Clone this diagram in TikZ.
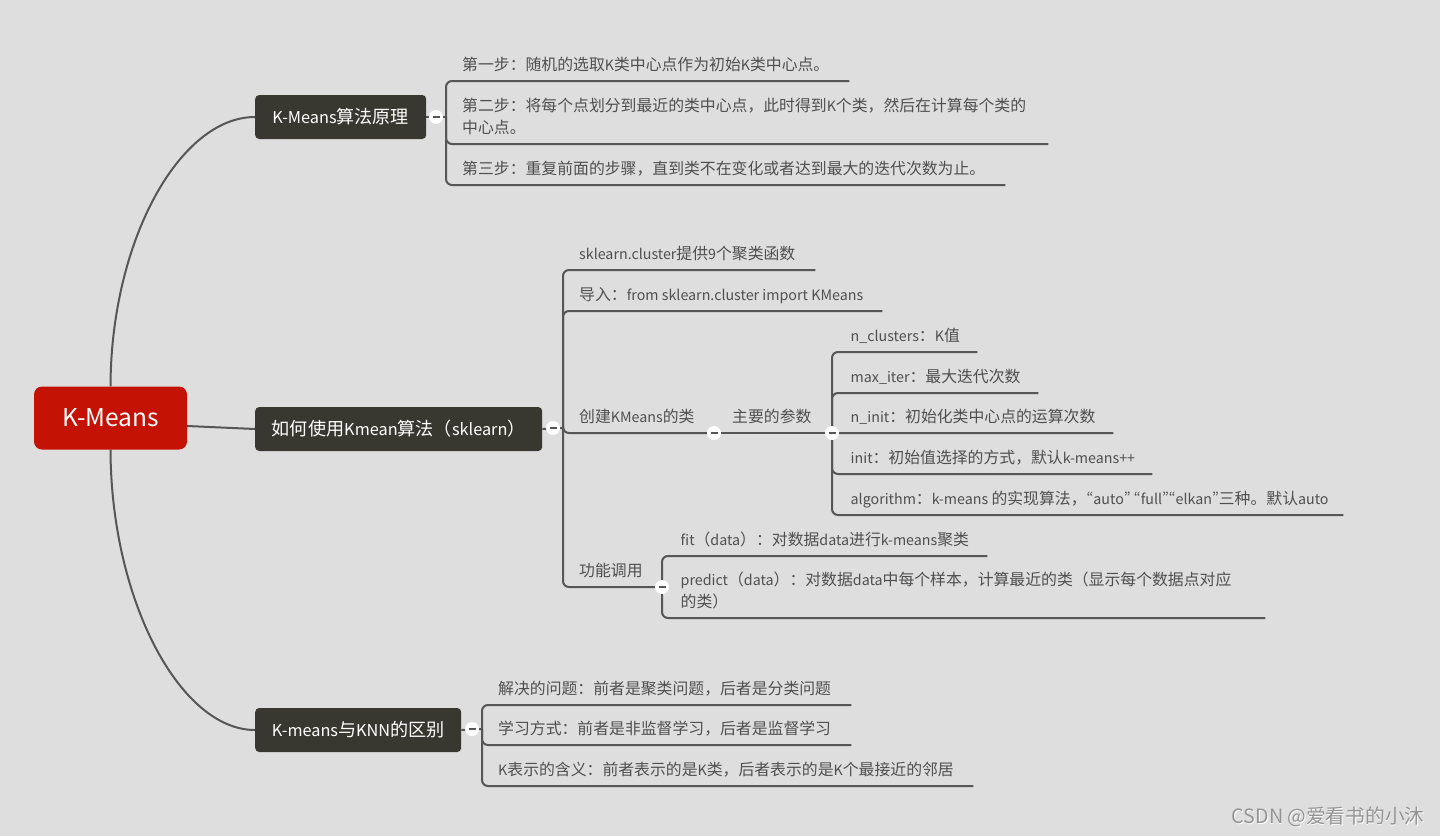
\documentclass[tikz,border=0pt]{standalone}
\usepackage{fontspec}
\setmainfont{Noto Sans CJK SC}
\newfontfamily\latfont[Scale=0.9,RawFeature={+pwid}]{Noto Sans CJK SC}
\newcommand{\lat}[1]{{\latfont\spaceskip=3.3pt\relax #1}}
\usetikzlibrary{backgrounds}
\definecolor{paper}{HTML}{DEDEDE}
\definecolor{rootred}{HTML}{C41205}
\definecolor{topicdark}{HTML}{383830}
\definecolor{inkgrey}{HTML}{4F4F4F}
\definecolor{linegrey}{HTML}{565656}
\tikzset{root/.style={rectangle,rounded corners=8pt,fill=rootred,text=white,minimum width=153pt,minimum height=63pt,font=\fontsize{24.5}{28}\selectfont}}
\tikzset{topic/.style={rectangle,rounded corners=4pt,fill=topicdark,text=white,minimum height=44pt,inner xsep=0pt,font=\fontsize{18.1}{22}\selectfont}}
\tikzset{lead/.style={execute at begin node={\leftskip=#1\relax}}}
\tikzset{leaf/.style={anchor=south west,text=inkgrey,inner xsep=0pt,inner ysep=3.5pt,text width=#1,align=left,lead=16pt,execute at end node={\strut},font=\fontsize{15.85}{22.5}\selectfont}}
\tikzset{hub/.style={circle,fill=white,inner sep=0pt,minimum size=14pt,path picture={\draw[linegrey,line width=2pt] ([xshift=-3.5pt]path picture bounding box.center) -- ([xshift=3.5pt]path picture bounding box.center);}}}
\tikzset{branch/.style={draw=linegrey,line width=2pt,rounded corners=6pt}}
\tikzset{limb/.style={draw=linegrey,line width=2pt}}

\begin{document}
\begin{tikzpicture}[x=1pt,y=-1pt]
  \useasboundingbox (0,0) rectangle (1440,836);

  \node [root] (Root) at (110.5,418) {K-Means};
  \node [topic,anchor=west,minimum width=171pt] (Principle) at (255,117) {\lat{K-Means}算法原理};
  \node [topic,anchor=west,minimum width=287pt] (Usage) at (255,429) {如何使用\lat{Kmean}算法（\lat{sklearn}）};
  \node [topic,anchor=west,minimum width=206pt] (Versus) at (255,730) {\lat{K-means}与\lat{KNN}的区别};

  % steps
  \node [leaf=403pt] (StepA) at (446,81) {第一步：随机的选取\lat{K}类中心点作为初始\lat{K}类中心点。};
  \node [leaf=602pt] (StepB) at (446,144) {第二步：将每个点划分到最近的类中心点，此时得到\lat{K}个类，然后在计算每个类的\\中心点。};
  \node [leaf=559pt] (StepC) at (446,185) {第三步：重复前面的步骤，直到类不在变化或者达到最大的迭代次数为止。};

  % sklearn
  \node [leaf=252pt] (Cluster) at (563,270) {\lat{sklearn.cluster}提供\lat{9}个聚类函数};
  \node [leaf=319pt] (Import) at (563,311) {导入：\lat{from sklearn.cluster import KMeans}};
  \node [leaf=151pt] (Create) at (563,433) {创建\lat{KMeans}的类};
  \node [leaf=118pt,lead=18pt] (Params) at (714,433) {主要的参数};
  \node [leaf=99pt] (Call) at (563,587) {功能调用};

  \node [leaf=145pt,lead=18.5pt] (Clusters) at (832,352) {\lat{n\_clusters}：\lat{K}值};
  \node [leaf=206pt,lead=18.5pt] (MaxIter) at (832,393) {\lat{max\_iter}：最大迭代次数};
  \node [leaf=281pt,lead=18.5pt] (NInit) at (832,433) {\lat{n\_init}：初始化类中心点的运算次数};
  \node [leaf=320pt,lead=18.5pt] (InitWay) at (832,474) {\lat{init}：初始值选择的方式，默认\lat{k-means++}};
  \node [leaf=511pt,lead=18.5pt] (Algo) at (832,515) {\lat{algorithm}：\lat{k-means }的实现算法，\lat{“auto” “full”“elkan”}三种。默认\lat{auto}};

  \node [leaf=325pt,lead=18.5pt] (Fit) at (662,556) {\lat{fit}（\lat{data}）：对数据\lat{data}进行\lat{k-means}聚类};
  \node [leaf=603pt,lead=18.5pt] (Predict) at (662,618) {\lat{predict}（\lat{data}）：对数据\lat{data}中每个样本，计算最近的类（显示每个数据点对应\\的类）};

  % versus
  \node [leaf=369pt] (Problem) at (482,705) {解决的问题：前者是聚类问题，后者是分类问题};
  \node [leaf=369pt] (Learn) at (482,745) {学习方式：前者是非监督学习，后者是监督学习};
  \node [leaf=491pt] (Meaning) at (482,786) {\lat{K}表示的含义：前者表示的是\lat{K}类，后者表示的是\lat{K}个最接近的邻居};

  \node [hub] (HubA) at (436,117) {};
  \node [hub] (HubB) at (553,428) {};
  \node [hub] (HubC) at (714,433) {};
  \node [hub] (HubD) at (832,433) {};
  \node [hub] (HubE) at (662,587) {};
  \node [hub] (HubF) at (472,729) {};

  \node [text=white,anchor=east,font=\fontsize{19.7}{22}\selectfont] (MarkGlow) at (1428.6,817.6) {CSDN @爱看书的小沐};
  \node [text=gray!85,anchor=east,font=\fontsize{19.7}{22}\selectfont] (Mark) at (1428,817) {CSDN @爱看书的小沐};

  \begin{pgfonlayer}{background}
    \fill [paper] (0,0) rectangle (1440,836);

    \path [limb] (Root.north) .. controls (111,240) and (180,117) .. (Principle.west);
    \path [limb] ([yshift=-8pt]Root.east) -- (Usage.west);
    \path [limb] (Root.south) .. controls (111,600) and (180,730) .. (Versus.west);

    \coordinate (TrunkA) at (446,117);
    \coordinate (TrunkB) at (563,428);
    \coordinate (TrunkD) at (832,433);
    \coordinate (TrunkE) at (662,587);
    \coordinate (TrunkF) at (482,729);

    \path [limb] (Principle.east) -- (TrunkA);
    \path [limb] (Usage.east) -- (TrunkB);
    \path [limb] (Versus.east) -- (TrunkF);

    \foreach \tip in {StepA,StepB,StepC}
      \path [branch] (TrunkA) |- (\tip.south east);
    \foreach \tip in {Cluster,Import,Create,Call}
      \path [branch] (TrunkB) |- (\tip.south east);
    \path [limb] (Params.south west) -- (Params.south east);
    \foreach \tip in {Clusters,MaxIter,NInit,InitWay,Algo}
      \path [branch] (TrunkD) |- (\tip.south east);
    \foreach \tip in {Fit,Predict}
      \path [branch] (TrunkE) |- (\tip.south east);
    \foreach \tip in {Problem,Learn,Meaning}
      \path [branch] (TrunkF) |- (\tip.south east);
  \end{pgfonlayer}
\end{tikzpicture}
\end{document}
